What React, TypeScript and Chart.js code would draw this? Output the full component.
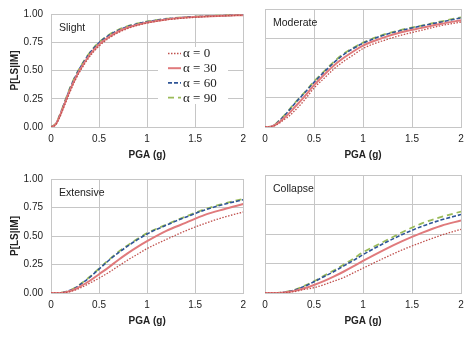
import React, { useEffect, useRef } from "react";
import { Chart, registerables } from "chart.js";

Chart.register(...registerables);

// ---- data ----
const PGA = [0, 0.05, 0.1, 0.15, 0.2, 0.25, 0.3, 0.4, 0.5, 0.6, 0.7, 0.8, 0.9, 1.0, 1.2, 1.4, 1.6, 1.8, 2.0];

const slightA0 = [0, 0.02, 0.105, 0.21, 0.315, 0.41, 0.49, 0.62, 0.715, 0.785, 0.835, 0.872, 0.9, 0.92, 0.948, 0.965, 0.976, 0.984, 0.989];
const slightA30 = [0, 0.025, 0.115, 0.225, 0.33, 0.425, 0.505, 0.635, 0.73, 0.795, 0.845, 0.88, 0.905, 0.925, 0.952, 0.968, 0.978, 0.985, 0.99];
const slightA60 = [0, 0.028, 0.122, 0.235, 0.345, 0.44, 0.52, 0.65, 0.745, 0.81, 0.855, 0.89, 0.913, 0.932, 0.956, 0.971, 0.98, 0.986, 0.991];
const slightA90 = [0, 0.03, 0.125, 0.24, 0.35, 0.445, 0.525, 0.655, 0.75, 0.815, 0.86, 0.893, 0.916, 0.934, 0.958, 0.972, 0.981, 0.987, 0.992];

const moderateA0 = [0, 0.001, 0.012, 0.035, 0.065, 0.095, 0.135, 0.225, 0.33, 0.41, 0.49, 0.555, 0.61, 0.665, 0.73, 0.78, 0.82, 0.86, 0.89];
const moderateA30 = [0, 0.001, 0.015, 0.045, 0.08, 0.12, 0.165, 0.255, 0.355, 0.44, 0.52, 0.585, 0.64, 0.69, 0.755, 0.805, 0.84, 0.875, 0.905];
const moderateA60 = [0, 0.002, 0.019, 0.057, 0.097, 0.145, 0.195, 0.285, 0.378, 0.463, 0.543, 0.612, 0.665, 0.71, 0.775, 0.82, 0.857, 0.89, 0.925];
const moderateA90 = [0, 0.002, 0.02, 0.06, 0.1, 0.15, 0.2, 0.29, 0.385, 0.47, 0.55, 0.62, 0.67, 0.715, 0.78, 0.825, 0.86, 0.895, 0.93];

const extensiveA0 = [0, 0, 0.001, 0.005, 0.013, 0.025, 0.042, 0.085, 0.13, 0.18, 0.235, 0.29, 0.34, 0.39, 0.47, 0.545, 0.61, 0.665, 0.71];
const extensiveA30 = [0, 0, 0.001, 0.007, 0.018, 0.033, 0.055, 0.105, 0.165, 0.225, 0.29, 0.35, 0.405, 0.455, 0.545, 0.615, 0.685, 0.735, 0.78];
const extensiveA60 = [0, 0, 0.002, 0.01, 0.024, 0.043, 0.072, 0.135, 0.21, 0.285, 0.352, 0.413, 0.468, 0.518, 0.595, 0.665, 0.728, 0.778, 0.818];
const extensiveA90 = [0, 0, 0.002, 0.01, 0.025, 0.045, 0.075, 0.14, 0.215, 0.29, 0.36, 0.42, 0.475, 0.525, 0.6, 0.67, 0.735, 0.785, 0.825];

const collapseA0 = [0, 0, 0, 0.001, 0.003, 0.007, 0.012, 0.03, 0.045, 0.07, 0.1, 0.13, 0.17, 0.21, 0.29, 0.365, 0.43, 0.49, 0.54];
const collapseA30 = [0, 0, 0, 0.001, 0.005, 0.01, 0.018, 0.04, 0.068, 0.1, 0.138, 0.18, 0.225, 0.272, 0.36, 0.44, 0.51, 0.57, 0.615];
const collapseA60 = [0, 0, 0, 0.002, 0.007, 0.014, 0.025, 0.056, 0.095, 0.138, 0.18, 0.228, 0.275, 0.325, 0.415, 0.495, 0.565, 0.62, 0.665];
const collapseA90 = [0, 0, 0, 0.002, 0.008, 0.015, 0.027, 0.06, 0.1, 0.145, 0.19, 0.24, 0.29, 0.345, 0.43, 0.515, 0.59, 0.645, 0.69];

const SERIES_LABELS = ["α = 0", "α = 30", "α = 60", "α = 90"];
const PANEL_NAMES = ["Slight", "Moderate", "Extensive", "Collapse"];
const PANEL_DATA = [
  [slightA0, slightA30, slightA60, slightA90],
  [moderateA0, moderateA30, moderateA60, moderateA90],
  [extensiveA0, extensiveA30, extensiveA60, extensiveA90],
  [collapseA0, collapseA30, collapseA60, collapseA90],
];
const X_TITLE = "PGA (g)";
const Y_TITLE = "P[LS|IM]";

// ---- styles ----
const STYLES = [
  { color: "#c0504d", dash: [1.5, 1.5], width: 1.3 },
  { color: "#e07a7c", dash: [], width: 2 },
  { color: "#2f5597", dash: [4, 2], width: 1.6 },
  { color: "#9bbb59", dash: [6, 4], width: 1.8 },
];

const FONT = "'Liberation Sans', Arial, sans-serif";
const GRID = "#c6c6c6";
const TEXT = "#222";

const panelLabelPlugin = {
  id: "panelLabel",
  afterDraw(chart: any, _args: any, opts: any) {
    const { ctx, chartArea } = chart;
    ctx.save();
    ctx.font = `10.5px ${FONT}`;
    ctx.fillStyle = TEXT;
    ctx.textAlign = "left";
    ctx.textBaseline = "middle";
    ctx.fillText(opts.text, chartArea.left + 8, chartArea.top + 14);
    ctx.restore();
  },
};

const innerLegendPlugin = {
  id: "innerLegend",
  afterDraw(chart: any, _args: any, opts: any) {
    if (!opts.show) return;
    const { ctx } = chart;
    const x0 = opts.left, y0 = opts.top;
    ctx.save();
    ctx.fillStyle = "#ffffff";
    ctx.fillRect(x0, y0, 70, 57);
    chart.data.datasets.forEach((ds: any, i: number) => {
      const y = y0 + 6.5 + i * 14.7;
      ctx.beginPath();
      ctx.strokeStyle = ds.borderColor;
      ctx.lineWidth = ds.borderWidth;
      ctx.setLineDash(ds.borderDash || []);
      ctx.moveTo(x0 + 10, y);
      ctx.lineTo(x0 + 23, y);
      ctx.stroke();
      ctx.setLineDash([]);
      ctx.fillStyle = TEXT;
      ctx.font = `13px 'Liberation Serif', 'DejaVu Serif', serif`;
      ctx.textAlign = "left";
      ctx.textBaseline = "middle";
      ctx.fillText(ds.label, x0 + 25, y + 0.5);
    });
    ctx.restore();
  },
};

type PanelProps = {
  idx: number;
  left: number;
  top: number;
  width: number;
  height: number;
  yWidth: number;
  showY: boolean;
  pad: { top: number; right: number; bottom: number; left: number };
};

function Panel(p: PanelProps) {
  const ref = useRef<HTMLCanvasElement | null>(null);
  useEffect(() => {
    if (!ref.current) return;
    const series = PANEL_DATA[p.idx];
    const chart = new Chart(ref.current, {
      type: "line",
      data: {
        datasets: series.map((vals, i) => ({
          label: SERIES_LABELS[i],
          data: PGA.map((x, j) => ({ x, y: vals[j] })),
          borderColor: STYLES[i].color,
          borderDash: STYLES[i].dash,
          borderWidth: STYLES[i].width,
          pointRadius: 0,
          fill: false,
          tension: 0.4,
          cubicInterpolationMode: "monotone",
        })),
      },
      options: {
        animation: false,
        responsive: false,
        layout: { padding: p.pad },
        plugins: {
          legend: { display: false },
          tooltip: { enabled: false },
          panelLabel: { text: PANEL_NAMES[p.idx] },
          innerLegend: { show: p.idx === 0, left: 158, top: 47 },
        } as any,
        scales: {
          x: {
            type: "linear",
            min: 0,
            max: 2,
            ticks: {
              stepSize: 0.5,
              callback: (v: any) => String(v),
              font: { family: FONT, size: 10 },
              color: TEXT,
              padding: 6,
              maxRotation: 0,
            },
            grid: { color: GRID, drawTicks: false, lineWidth: 1 },
            border: { color: GRID },
            title: {
              display: true,
              text: X_TITLE,
              font: { family: FONT, size: 10, weight: "bold" },
              color: TEXT,
              padding: { top: 0, bottom: 4 },
            },
            afterFit: (s: any) => {
              s.height = 38;
            },
          },
          y: {
            min: 0,
            max: 1,
            ticks: {
              stepSize: 0.25,
              display: p.showY,
              callback: (v: any) => Number(v).toFixed(2),
              font: { family: FONT, size: 10 },
              color: TEXT,
              padding: 8,
            },
            grid: { color: GRID, drawTicks: false, lineWidth: 1 },
            border: { color: GRID },
            title: {
              display: p.showY,
              text: Y_TITLE,
              font: { family: FONT, size: 10, weight: "bold" },
              color: TEXT,
              padding: { top: 9, bottom: 0 },
            },
            afterFit: (s: any) => {
              s.width = p.yWidth;
            },
          },
        },
      } as any,
      plugins: [panelLabelPlugin, innerLegendPlugin],
    });
    return () => chart.destroy();
  }, []);
  return (
    <canvas
      ref={ref}
      width={p.width}
      height={p.height}
      style={{ position: "absolute", left: p.left, top: p.top, width: p.width, height: p.height }}
    />
  );
}

export default function App() {
  return (
    <div style={{ position: "fixed", left: 0, top: 0, width: 474, height: 338, background: "#fff", overflow: "hidden" }}>
      <Panel idx={0} left={0} top={0} width={252} height={165} yWidth={51} showY={true} pad={{ top: 9, right: 4, bottom: 0, left: 0 }} />
      <Panel idx={1} left={252} top={0} width={222} height={165} yWidth={13} showY={false} pad={{ top: 9, right: 13, bottom: 0, left: 0 }} />
      <Panel idx={2} left={0} top={165} width={252} height={173} yWidth={51} showY={true} pad={{ top: 10, right: 4, bottom: 7, left: 0 }} />
      <Panel idx={3} left={252} top={165} width={222} height={173} yWidth={13} showY={false} pad={{ top: 10, right: 13, bottom: 7, left: 0 }} />
    </div>
  );
}
